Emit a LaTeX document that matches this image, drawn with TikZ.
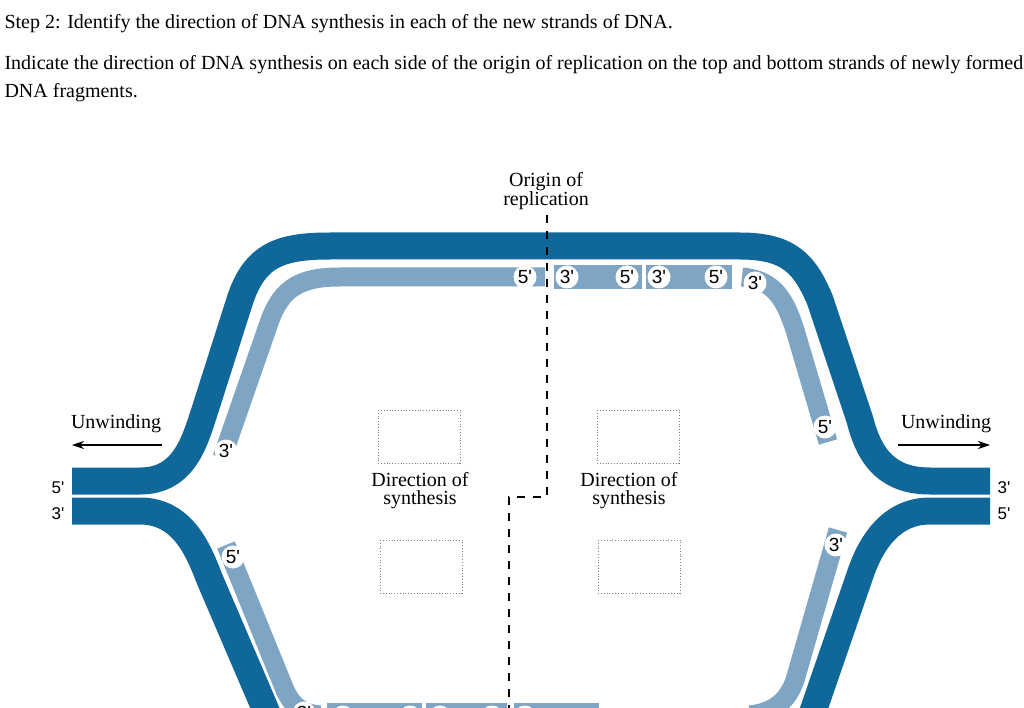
\documentclass[tikz,border=0pt]{standalone}
\usepackage{fontspec}
\setmainfont{Liberation Serif}
\newfontfamily\lsans{Liberation Sans}
\usetikzlibrary{arrows.meta}
\begin{document}
\begin{tikzpicture}[x=1pt,y=-1pt,
  dark/.style={draw={rgb,255:red,16;green,104;blue,154},line width=27pt},
  lightw/.style={draw=white,line width=23pt},
  light/.style={draw={rgb,255:red,127;green,165;blue,196},line width=19pt},
  seg/.style={fill={rgb,255:red,127;green,165;blue,196},draw=white,line width=2pt},
  lab/.style={circle,fill=white,inner sep=0pt,minimum size=23pt,font=\lsans\fontsize{19}{19}\selectfont},
  dbox/.style={draw=gray,dotted,thick},
  txt/.style={font=\fontsize{20}{22}\selectfont,align=center},
  ends/.style={font=\lsans\fontsize{17}{17}\selectfont}]
\clip (0,0) rectangle (1024,708);
\useasboundingbox (0,0) rectangle (1024,708);
\node[txt,anchor=west] (t1) at (1,24) {Step 2: Identify the direction of DNA synthesis in each of the new strands of DNA.};
\node[txt,anchor=west] (t2) at (1,65) {Indicate the direction of DNA synthesis on each side of the origin of replication on the top and bottom strands of newly formed};
\node[txt,anchor=west] (t3) at (1,93) {DNA fragments.};
% dark strands
\draw[dark] (72,481) -- (140,481) .. controls (185,481) and (195,440) .. (205,410) -- (240,300) .. controls (255,255) and (280,246) .. (330,246) -- (740,246) .. controls (790,246) and (805,265) .. (820,300) -- (860,420) .. controls (870,460) and (890,481) .. (930,481) -- (990,481);
\draw[dark] (72,511) -- (140,511) .. controls (185,511) and (200,555) .. (210,580) -- (270,720);
\draw[dark] (990,511) -- (930,511) .. controls (890,511) and (870,545) .. (860,575) -- (810,720);
% light strands
\draw[lightw] (222,458) -- (270,320) .. controls (282,288) and (300,277) .. (340,277) -- (545,277);
\draw[light] (222,458) -- (270,320) .. controls (282,288) and (300,277) .. (340,277) -- (545,277);
\draw[lightw] (742,277) .. controls (775,280) and (785,300) .. (795,330) -- (828,442);
\draw[light] (742,277) .. controls (775,280) and (785,300) .. (795,330) -- (828,442);
\draw[lightw] (226,545) -- (285,690) .. controls (292,705) and (300,713) .. (320,715);
\draw[light] (226,545) -- (285,690) .. controls (292,705) and (300,713) .. (320,715);
\draw[lightw] (838,530) -- (795,680) .. controls (788,700) and (775,712) .. (750,715);
\draw[light] (838,530) -- (795,680) .. controls (788,700) and (775,712) .. (750,715);
\fill[white] (545,262) rectangle (553,292);
\path[seg] (553,264) rectangle (643,290);
\path[seg] (645,264) rectangle (733,290);
\path[seg] (326,702) rectangle (423,728);
\path[seg] (425,702) rectangle (508,728);
\path[seg] (513,702) rectangle (600,728);
% labels
\node[lab] (a1) at (525,277) {5'};
\node[lab] (a2) at (567,277) {3'};
\node[lab] (a3) at (627,277) {5'};
\node[lab] (a4) at (659,277) {3'};
\node[lab] (a5) at (716,277) {5'};
\node[lab] (a6) at (755,283) {3'};
\node[lab] (a7) at (825,427) {5'};
\node[lab] (a8) at (226,451) {3'};
\node[lab] (a9) at (233,557) {5'};
\node[lab] (a10) at (836,545) {3'};
\node[lab] (a11) at (304,713) {3'};
\node[lab] (a12) at (343,717) {};
\node[lab] (a13) at (410,717) {};
\node[lab] (a14) at (440,717) {};
\node[lab] (a15) at (492,717) {};
\node[lab] (a16) at (525,717) {};
% origin dashed
\node[txt] (orig) at (546,191) {Origin of\\[-3pt]replication};
\coordinate (d1) at (547,215);
\coordinate (d2) at (547,497);
\coordinate (d3) at (509,497);
\coordinate (d4) at (509,708);
\draw[line width=1.6pt,dash pattern=on 8pt off 8pt] (d1) -- (d2) -- (d3) -- (d4);
% boxes
\draw[dbox] (378,410) rectangle (460,463);
\draw[dbox] (597,410) rectangle (679,463);
\draw[dbox] (380,540) rectangle (462,593);
\draw[dbox] (598,540) rectangle (680,593);
\node[txt] (ds1) at (420,491) {Direction of\\[-4pt]synthesis};
\node[txt] (ds2) at (629,491) {Direction of\\[-4pt]synthesis};
% unwinding
\node[txt] (u1) at (116,424) {Unwinding};
\node[txt] (u2) at (946,424) {Unwinding};
\coordinate (ul1) at (162,445); \coordinate (ul2) at (72,445);
\coordinate (ur1) at (898,445); \coordinate (ur2) at (990,445);
\draw[-{Stealth[length=12pt,width=8pt]},line width=1.2pt] (ul1) -- (ul2);
\draw[-{Stealth[length=12pt,width=8pt]},line width=1.2pt] (ur1) -- (ur2);
\node[ends] (e1) at (58,488) {5'};
\node[ends] (e2) at (58,514) {3'};
\node[ends] (e3) at (1004,488) {3'};
\node[ends] (e4) at (1004,514) {5'};
\end{tikzpicture}
\end{document}
